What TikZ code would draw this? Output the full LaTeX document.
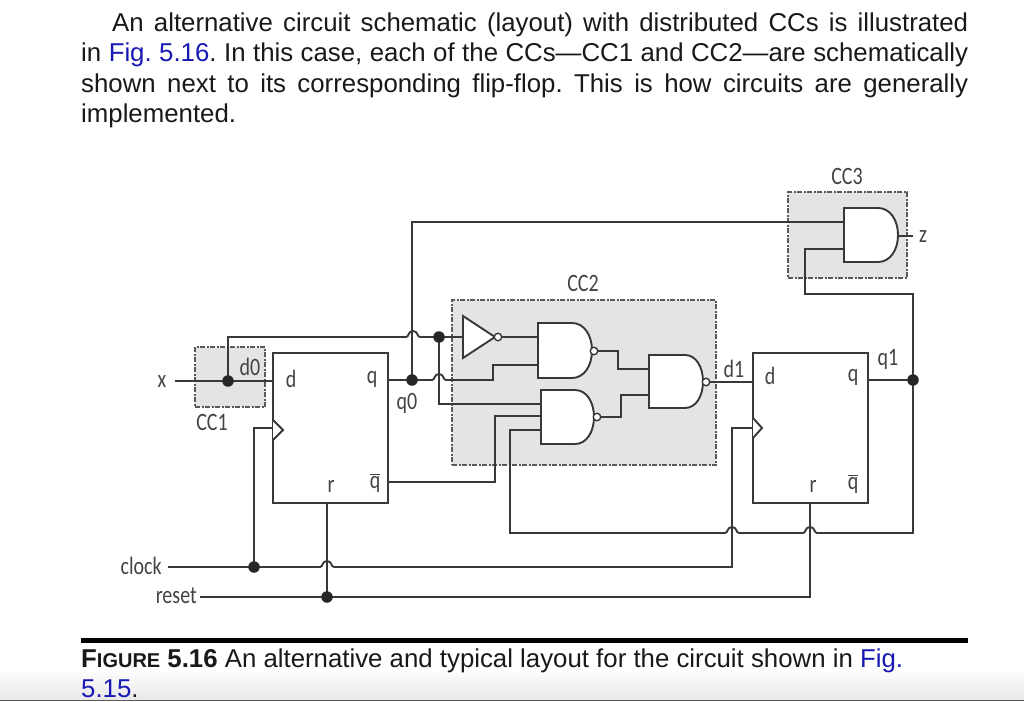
\documentclass[tikz,border=0pt]{standalone}
\usepackage{fontspec}
\setmainfont{Liberation Sans}
\newfontfamily\figfont[FakeStretch=0.8]{Carlito}
\definecolor{wirec}{HTML}{383838}
\definecolor{labelc}{HTML}{444444}
\definecolor{ccfill}{HTML}{E4E4E4}
\definecolor{linkc}{HTML}{1818B4}
\tikzset{
  wire/.style={draw=wirec,line width=1.9pt,line join=miter},
  ffbox/.style={draw=wirec,fill=white,line width=2.3pt,minimum width=115pt,minimum height=150pt,inner sep=0pt,outer sep=0pt,anchor=north west},
  ccbox/.style={draw=black!65,fill=ccfill,line width=1.3pt,dash pattern=on 5pt off 1.5pt on 2pt off 1.5pt,inner sep=0pt,outer sep=0pt,anchor=north west},
  gatebody/.style={draw=wirec,fill=white,line width=1.9pt,line join=miter},
  bubble/.style={circle,draw=wirec,fill=white,line width=1.4pt,minimum size=7.5pt,inner sep=0pt,outer sep=0pt},
  joint/.style={circle,fill=black!85,minimum size=11.5pt,inner sep=0pt,outer sep=0pt},
  lbl/.style={text=labelc,font=\figfont\fontsize{25}{27}\selectfont,inner sep=0pt},
  prose/.style={anchor=base west,inner sep=0pt,text=black!90}
}
% horizontal wire hop over a vertical wire at x=#1, on level y=#2
\def\hop#1#2{-- (#1-7,#2) .. controls (#1-4,#2) and (#1-5,#2-6) .. (#1,#2-6) .. controls (#1+5,#2-6) and (#1+4,#2) .. (#1+7,#2)}
% gate outline: x, top y, bottom y, x where the flat part stops, tip x
\newcommand{\gateshape}[5]{
  \path[gatebody] (#1,#2) -- (#4,#2) .. controls ({#4+0.6*(#5-#4)},#2) and (#5,{#2+0.22*(#3-#2)}) .. (#5,{(#2+#3)/2})
     .. controls (#5,{#3-0.22*(#3-#2)}) and ({#4+0.6*(#5-#4)},#3) .. (#4,#3) -- (#1,#3) -- cycle;
}
\begin{document}
\begin{tikzpicture}[x=1pt,y=-1pt]
\useasboundingbox (0,0) rectangle (1024,701);
\fill[white] (0,0) rectangle (1024,701);
\shade[top color=white,bottom color=black!9] (0,668) rectangle (1024,699.5);
\fill[black!65] (0,699.5) rectangle (1024,701);

% prose
\node[prose] (para) at (81,32) {\parbox[t]{887pt}{\fontsize{25.8}{30}\selectfont\frenchspacing\emergencystretch=20pt
\hspace*{31pt}An alternative circuit schematic (layout) with distributed CCs is illustrated\linebreak
in {\color{linkc}Fig. 5.16}. In this case, each of the CCs—CC1 and CC2—are schematically\linebreak
shown next to its corresponding flip-flop. This is how circuits are generally\linebreak
implemented.}};

% dashed blocks
\node[ccbox,minimum width=70pt,minimum height=60pt] (cc1) at (195,347) {};
\node[ccbox,minimum width=264pt,minimum height=165pt] (cc2) at (452,300) {};
\node[ccbox,minimum width=119pt,minimum height=86pt] (cc3) at (788,192) {};

% flip-flops
\node[ffbox] (ff0) at (273,353) {};
\node[ffbox] (ff1) at (753,353) {};

% pins and junctions
\coordinate (xin) at (175,381);
\coordinate (clkin) at (168,567);
\coordinate (rstin) at (200,597);
\coordinate (jx) at (228,381);
\coordinate (jq0) at (412,380);
\coordinate (jinv) at (439,337);
\coordinate (jq1) at (913,380);
\coordinate (jclk) at (254,567);
\coordinate (jrst) at (327,597);
\coordinate (ff0d) at (273,381);
\coordinate (ff0q) at (389,380);
\coordinate (ff0nq) at (389,482);
\coordinate (ff0c) at (273,428);
\coordinate (ff0r) at (327,503);
\coordinate (ff1d) at (753,382);
\coordinate (ff1q) at (868,380);
\coordinate (ff1c) at (753,428);
\coordinate (ff1r) at (810,503);
\coordinate (invin) at (463,337);
\coordinate (invout) at (501,337);
\coordinate (a1) at (538,337);
\coordinate (a2) at (538,365);
\coordinate (b1) at (541,404);
\coordinate (b2) at (541,416);
\coordinate (b3) at (541,430);
\coordinate (c1) at (649,369);
\coordinate (c2) at (649,395);
\coordinate (aout) at (597,351);
\coordinate (bout) at (600,417);
\coordinate (cout) at (709,382);
\coordinate (d1) at (844,222);
\coordinate (d2) at (844,249);
\coordinate (dout) at (898,236);
\coordinate (zend) at (913,236);

% wires
\draw[wire] (xin) -- (ff0d);
\draw[wire] (jx) -- (228,337) \hop{413}{337} -- (invin);
\draw[wire] (ff0q) -- (jq0) \hop{439}{380} -- (493,380) -- (493,365) -- (a2);
\draw[wire] (jq0) -- (412,222) -- (d1);
\draw[wire] (jinv) |- (b1);
\draw[wire] (invout) -- (a1);
\draw[wire] (ff0nq) -- (495,482) -- (495,416) -- (b2);
\draw[wire] (b3) -- (510,430) -- (510,533) \hop{732}{533} \hop{810}{533} -- (913,533) -- (913,294) -- (805,294) -- (805,249) -- (d2);
\draw[wire] (ff1q) -- (jq1);
\draw[wire] (aout) -- (618,351) -- (618,369) -- (c1);
\draw[wire] (bout) -- (621,417) -- (621,395) -- (c2);
\draw[wire] (cout) -- (ff1d);
\draw[wire] (dout) -- (zend);
\draw[wire] (clkin) \hop{327}{567} -- (732,567) -- (732,428) -- (ff1c);
\draw[wire] (jclk) -- (254,428) -- (ff0c);
\draw[wire] (rstin) -- (810,597) -- (ff1r);
\draw[wire] (jrst) -- (ff0r);

% clock triangles
\draw[wire,fill=white] (273,420) -- (283,430) -- (273,440);
\draw[wire,fill=white] (753,418) -- (762,428) -- (753,438);

% gates
\path[gatebody] (463,316) -- (495,337) -- (463,358) -- cycle;
\node[bubble] (invb) at (498,337) {};
\gateshape{538}{323}{378}{572}{592}
\node[bubble] (nb1) at (594,351) {};
\gateshape{541}{390}{444}{575}{594}
\node[bubble] (nb2) at (597,417) {};
\gateshape{649}{355}{408}{685}{703}
\node[bubble] (nb3) at (706,382) {};
\gateshape{844}{208}{262}{878}{898}

% junction dots
\node[joint] (dx) at (jx) {};
\node[joint] (dq0) at (jq0) {};
\node[joint] (dinv) at (jinv) {};
\node[joint] (dq1) at (jq1) {};
\node[joint] (dclk) at (jclk) {};
\node[joint] (drst) at (jrst) {};

% labels
\node[lbl] (lx) at (162,382) {x};
\node[lbl,anchor=east] (lclock) at (162,566) {clock};
\node[lbl,anchor=east] (lreset) at (197,596) {reset};
\node[lbl] (ld0) at (250,367) {d0};
\node[lbl] (lcc1) at (212,422) {CC1};
\node[lbl] (ld) at (291,379) {d};
\node[lbl] (lq) at (372,379) {q};
\node[lbl] (lr) at (331,486) {r};
\node[lbl] (lnq) at (375,483) {$\overline{\mbox{q}}$};
\node[lbl] (lq0) at (407,403) {q0};
\node[lbl] (lcc2) at (583,283) {CC2};
\node[lbl] (ld1) at (734,369) {d1};
\node[lbl] (ld2) at (770,376) {d};
\node[lbl] (lq2) at (853,377) {q};
\node[lbl] (lr2) at (813,486) {r};
\node[lbl] (lnq2) at (853,484) {$\overline{\mbox{q}}$};
\node[lbl] (lq1) at (888,359) {q1};
\node[lbl] (lcc3) at (847,176) {CC3};
\node[lbl] (lz) at (923,237) {z};

% caption
\fill[black] (81,638) rectangle (968,643);
\node[prose] (capa) at (81,667) {\fontsize{25.8}{28}\selectfont{\bfseries F{\fontsize{20}{22}\selectfont IGURE} 5.16} An alternative and typical layout for the circuit shown in {\color{linkc}Fig.}};
\node[prose] (capb) at (81,697) {\fontsize{25.8}{28}\selectfont{\color{linkc}5.15}.};
\end{tikzpicture}
\end{document}
